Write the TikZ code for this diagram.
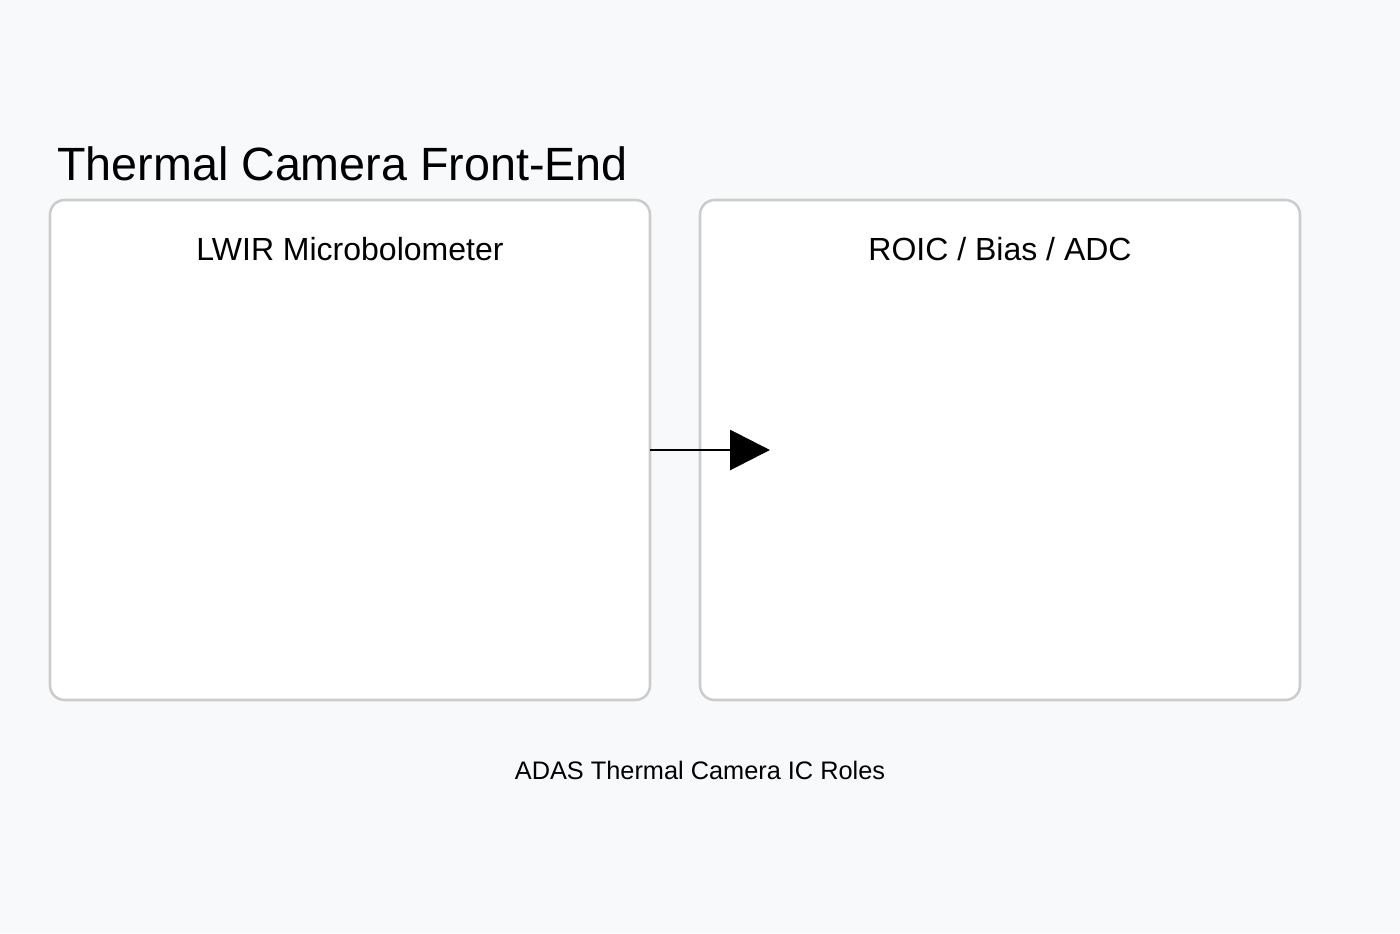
\documentclass[tikz,border=0pt]{standalone}
\usepackage{fontspec}
\setmainfont{Liberation Sans}
\usetikzlibrary{arrows.meta}
\definecolor{bg}{HTML}{F8F9FA}
\definecolor{bord}{HTML}{CCCCCC}
\begin{document}
\begin{tikzpicture}[x=0.75pt,y=-0.75pt,
  box/.style={draw=bord,line width=1.9pt,fill=white,rounded corners=11pt},
  lbl/.style={font=\fontsize{24}{28}\selectfont,anchor=base}]
\fill[bg] (0,0) rectangle (1400,933);
\useasboundingbox (0,0) rectangle (1400,933);
\draw[box] (50,200) rectangle (650,700);
\draw[box] (700,200) rectangle (1300,700);
\node[lbl] (l1) at (350,260) {LWIR Microbolometer};
\node[lbl] (l2) at (1000,260) {ROIC / Bias / ADC};
\node[anchor=base west,inner sep=0,font=\fontsize{35}{40}\selectfont] (t) at (57,180) {Thermal Camera Front-End};
\node[anchor=base,font=\fontsize{19}{22}\selectfont] (c) at (700,779) {ADAS Thermal Camera IC Roles};
\coordinate (a) at (650,450);
\coordinate (b) at (770,450);
\draw[line width=2.2pt,-{Triangle[length=30pt,width=30pt]}] (a) -- (b);
\end{tikzpicture}
\end{document}
